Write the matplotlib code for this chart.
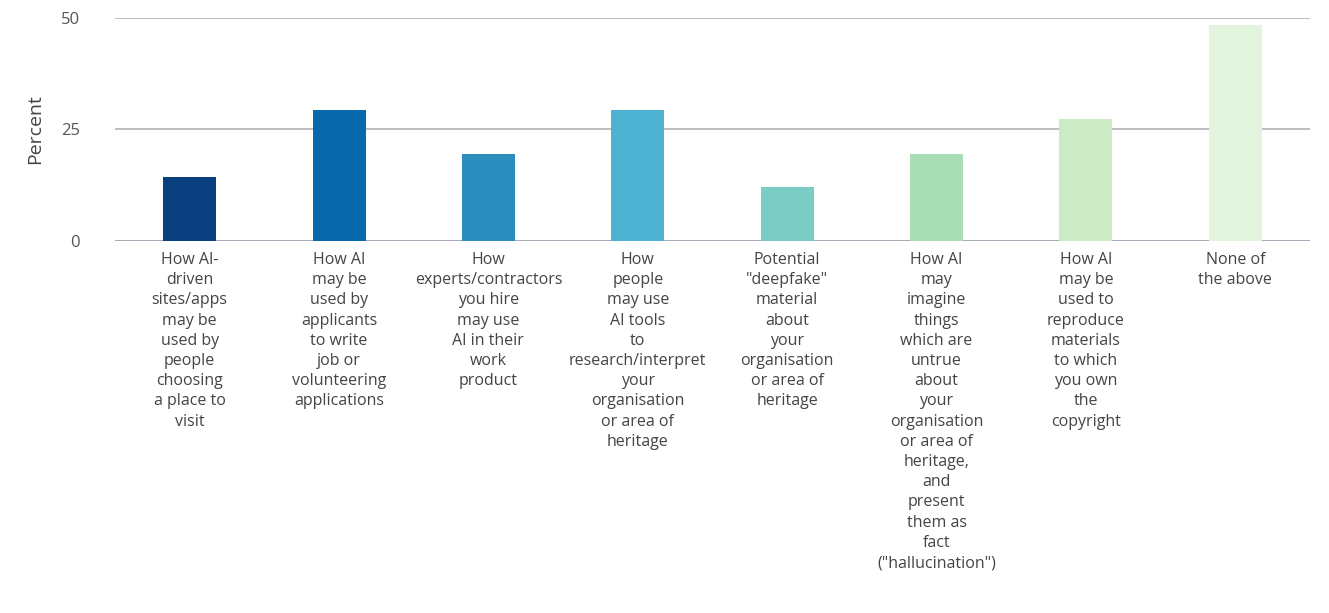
import matplotlib
matplotlib.use("Agg")
import matplotlib.pyplot as plt

categories = [
    "How AI-\ndriven\nsites/apps\nmay be\nused by\npeople\nchoosing\na place to\nvisit",
    "How AI\nmay be\nused by\napplicants\nto write\njob or\nvolunteering\napplications",
    "How\nexperts/contractors\nyou hire\nmay use\nAI in their\nwork\nproduct",
    "How\npeople\nmay use\nAI tools\nto\nresearch/interpret\nyour\norganisation\nor area of\nheritage",
    "Potential\n\"deepfake\"\nmaterial\nabout\nyour\norganisation\nor area of\nheritage",
    "How AI\nmay\nimagine\nthings\nwhich are\nuntrue\nabout\nyour\norganisation\nor area of\nheritage,\nand\npresent\nthem as\nfact\n(\"hallucination\")",
    "How AI\nmay be\nused to\nreproduce\nmaterials\nto which\nyou own\nthe\ncopyright",
    "None of\nthe above",
]
values = [14.3, 29.4, 19.5, 29.4, 12.1, 19.5, 27.4, 48.4]
colors = ["#0a3f80", "#0868ac", "#2b8cbe", "#4eb3d3", "#7bccc4", "#a8ddb5", "#ccebc5", "#e3f4de"]
yticks = [0, 25, 50]

fig = plt.figure(figsize=(13.29, 6.13), dpi=100)
ax = fig.add_axes([0.0865, 0.607, 0.8992, 0.3636])
x = range(len(values))
ax.bar(x, values, width=0.355, color=colors, zorder=3)
ax.set_xlim(-0.5, len(values) - 0.5)
ax.set_ylim(0, 50)
ax.set_yticks(yticks)
ax.set_yticklabels([str(t) for t in yticks], fontsize=12, color="#555555", family="Open Sans")
ax.tick_params(axis="y", length=0, pad=25)
ax.tick_params(axis="x", length=0, pad=8)
ax.set_xticks(list(x))
ax.set_xticklabels(categories, fontsize=11.5, color="#444444", family="Open Sans", linespacing=1.35)
for t in yticks:
    ax.axhline(t, color="#b0b0b8" if t else "#9a9aaa", lw=1.2, zorder=1)
for s in ax.spines.values():
    s.set_visible(False)
ax.set_ylabel("Percent", fontsize=14, color="#444444", family="Open Sans", labelpad=12)
fig.savefig("out.png", dpi=100)
